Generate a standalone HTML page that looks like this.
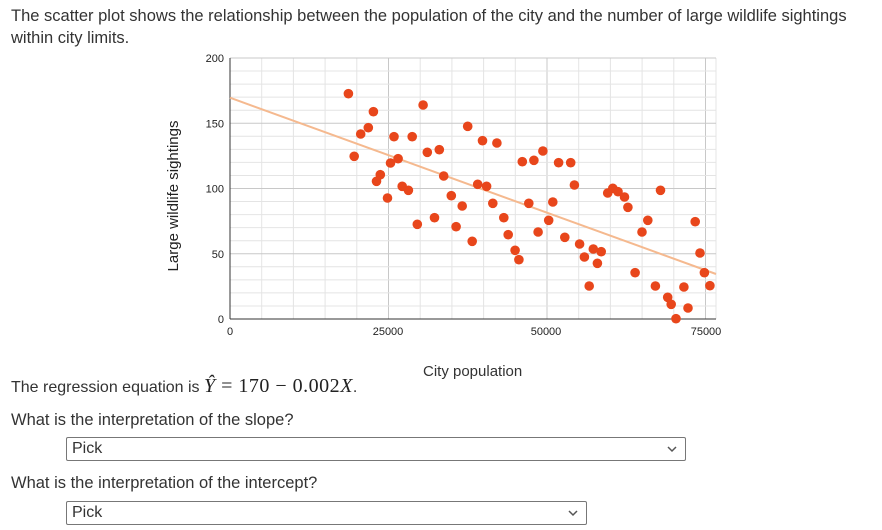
<!DOCTYPE html>
<html><head><meta charset="utf-8"><style>
body{margin:0;width:882px;height:530px;background:#fff;position:relative;overflow:hidden;font-family:"Liberation Sans",sans-serif;color:#333}
.t{position:absolute;font-size:16.5px;color:#333;white-space:nowrap}
.sel{position:absolute;border:1px solid #777;border-radius:2px;height:24px;box-sizing:border-box;font-size:16px;padding:2px 0 0 5px;color:#333}
.sel svg{position:absolute;right:8px;top:8px}
.m{font-family:"Liberation Serif",serif;font-size:20px;color:#222;letter-spacing:0.5px}
</style></head><body>
<div class="t" style="left:11px;top:5px;line-height:22px">The scatter plot shows the relationship between the population of the city and the number of large wildlife sightings<br>within city limits.</div>
<svg id="c" width="882" height="360" style="position:absolute;left:0;top:0" font-family="Liberation Sans, sans-serif"></svg>
<div class="t" style="left:423px;top:363px;font-size:15px">City population</div>
<div class="t" style="left:11px;top:375px;font-size:16px">The regression equation is <span class="m"><i>Ŷ</i> = 170 − 0.002<i>X</i></span>.</div>
<div class="t" style="left:11px;top:411px">What is the interpretation of the slope?</div>
<div class="sel" style="left:66px;top:437px;width:620px">Pick<svg width="10" height="7"><path d="M1 1L5 5L9 1" stroke="#555" stroke-width="1.5" fill="none"/></svg></div>
<div class="t" style="left:11px;top:474px">What is the interpretation of the intercept?</div>
<div class="sel" style="left:66px;top:501px;width:521px">Pick<svg width="10" height="7"><path d="M1 1L5 5L9 1" stroke="#555" stroke-width="1.5" fill="none"/></svg></div>
<script>
var s=document.getElementById('c'),h='';
var X0=230,X1=716,Y0=319,Y1=58;
function px(v){return X0+v/25000*158.5}
function py(v){return Y0-v/200*(Y0-Y1)}
for(var v=5000;v<=75000;v+=5000){var x=px(v);h+='<line x1="'+x+'" y1="'+Y1+'" x2="'+x+'" y2="'+Y0+'" stroke="'+(v%25000?'#e4e4e4':'#c8c8c8')+'"/>';}
h+='<line x1="'+X1+'" y1="'+Y1+'" x2="'+X1+'" y2="'+Y0+'" stroke="#e4e4e4"/>';
for(var v=10;v<=200;v+=10){var y=py(v);h+='<line x1="'+X0+'" y1="'+y+'" x2="'+X1+'" y2="'+y+'" stroke="'+(v%50?'#e4e4e4':'#c8c8c8')+'"/>';}
h+='<line x1="'+X0+'" y1="'+Y1+'" x2="'+X0+'" y2="'+Y0+'" stroke="#333"/><line x1="'+X0+'" y1="'+Y0+'" x2="'+X1+'" y2="'+Y0+'" stroke="#333"/>';
[0,50,100,150,200].forEach(function(v){h+='<text x="224" y="'+(py(v)+4)+'" font-size="11" text-anchor="end" fill="#222">'+v+'</text>';});
[[0,230],[25000,388],[50000,546],[75000,706]].forEach(function(a){h+='<text x="'+a[1]+'" y="335" font-size="11" text-anchor="middle" fill="#222">'+a[0]+'</text>';});
h+='<text transform="translate(178,196) rotate(-90)" font-size="15" text-anchor="middle" fill="#222">Large wildlife sightings</text>';
h+='<line x1="230" y1="97.7" x2="716" y2="274" stroke="#f5b98f" stroke-width="2"/>';
var P=[455,131,472,319,491,252,513,233,528,185,537,394,548,374,569,444,578,339,588,260,600,326,612,409,630,421,641,260,656,523,673,165,685,307,706,503,720,299,733,378,755,437,769,530,787,468,803,229,816,574,832,403,846,272,858,409,876,460,888,279,908,503,921,554,941,601,952,629,962,335,981,460,996,331,1008,546,1022,303,1039,511,1051,456,1068,338,1086,562,1103,338,1114,405,1129,582,1143,621,1157,708,1169,597,1181,640,1192,605,1211,429,1226,415,1241,425,1260,441,1270,472,1291,668,1311,546,1328,511,1350,708,1365,421,1386,742,1396,763,1410,806,1433,711,1445,774,1466,515,1480,609,1493,668,1509,707];
for(var i=0;i<P.length;i+=2){var x=230+(P[i]-110)/2.915,y=50+P[i+1]/3;h+='<circle cx="'+x.toFixed(1)+'" cy="'+y.toFixed(1)+'" r="4.8" fill="#e8461b"/>';}
s.innerHTML=h;
</script>
</body></html>
